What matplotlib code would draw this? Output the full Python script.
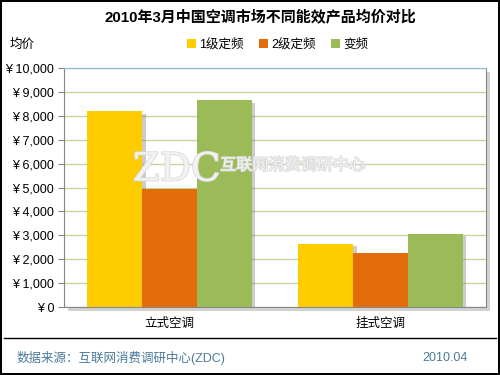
import matplotlib
matplotlib.use("Agg")
import matplotlib.pyplot as plt
import matplotlib.patheffects as pe
from matplotlib.lines import Line2D
from matplotlib.patches import Patch
import numpy as np

plt.rcParams['font.family'] = ['Liberation Sans', 'Noto Sans CJK SC', 'DejaVu Sans']

categories = ["立式空调", "挂式空调"]
series_names = ["1级定频", "2级定频", "变频"]
values_1 = [8180, 2650]
values_2 = [4930, 2260]
values_3 = [8640, 3050]
colors = ["#FFCC00", "#E46C0A", "#9BBB59"]
yticks = list(range(0, 10001, 1000))

fig = plt.figure(figsize=(5, 3.75), dpi=100)
fig.patch.set_edgecolor("black")
fig.patch.set_linewidth(1.5)

ax = fig.add_axes([0.128, 0.1813, 0.844, 0.6374])
ax.patch.set_path_effects([pe.SimplePatchShadow(offset=(3, -3), shadow_rgbFace="gray", alpha=0.35), pe.Normal()])

x = np.arange(len(categories))
w = 0.26
shadow = [pe.SimplePatchShadow(offset=(2.5, -1.5), shadow_rgbFace="gray", alpha=0.4), pe.Normal()]
for i, vals in enumerate([values_1, values_2, values_3]):
    bars = ax.bar(x + (i - 1) * w, vals, width=w, color=colors[i], zorder=3)
    for b in bars:
        b.set_path_effects(shadow)

ax.set_xlim(-0.5, 1.5)
ax.set_ylim(0, 10000)
ax.set_yticks(yticks)
ax.set_yticklabels(["¥ {:,}".format(v) for v in yticks], fontsize=9)
ax.yaxis.grid(True, color="#C3D69B", linewidth=1, zorder=0)
ax.set_axisbelow(True)
ax.set_xticks(x)
ax.set_xticklabels(categories, fontsize=9)
ax.tick_params(axis="x", length=0, pad=8)
ax.tick_params(axis="y", length=4, color="#868686", pad=3)
for s in ["left", "bottom", "right"]:
    ax.spines[s].set_color("#868686")
ax.spines["top"].set_color("#8DB3E2")

# watermark
ax.text(0.163, 0.573, "ZDC", transform=ax.transAxes, fontsize=28, family="DejaVu Serif",
        color="#f2f2f2", ha="left", va="center", zorder=5,
        path_effects=[pe.withStroke(linewidth=1.2, foreground="#d9d9d9")])
ax.text(0.37, 0.594, "互联网消费调研中心", transform=ax.transAxes, fontsize=11.6,
        color="#f2f2f2", ha="left", va="center", zorder=5,
        path_effects=[pe.withStroke(linewidth=1.2, foreground="#d9d9d9")])

fig.text(0.52, 0.955, "2010年3月中国空调市场不同能效产品均价对比", ha="center", va="center",
         fontsize=10.8, fontweight="bold")
fig.text(0.02, 0.88, "均价", ha="left", va="center", fontsize=9)

handles = [Patch(facecolor=c) for c in colors]
fig.legend(handles, series_names, loc="center", bbox_to_anchor=(0.555, 0.88), ncol=3,
           frameon=False, fontsize=9, handlelength=0.7, handleheight=0.7,
           handletextpad=0.3, columnspacing=1.2)

fig.add_artist(Line2D([0.008, 0.992], [0.099, 0.099], color="black", linewidth=1))
fig.text(0.034, 0.045, "数据来源：互联网消费调研中心(ZDC)", ha="left", va="center",
         fontsize=9, color="#4A7A9A")
fig.text(0.935, 0.045, "2010.04", ha="right", va="center", fontsize=9, color="#4A7A9A")

fig.savefig("out.png", dpi=100)
